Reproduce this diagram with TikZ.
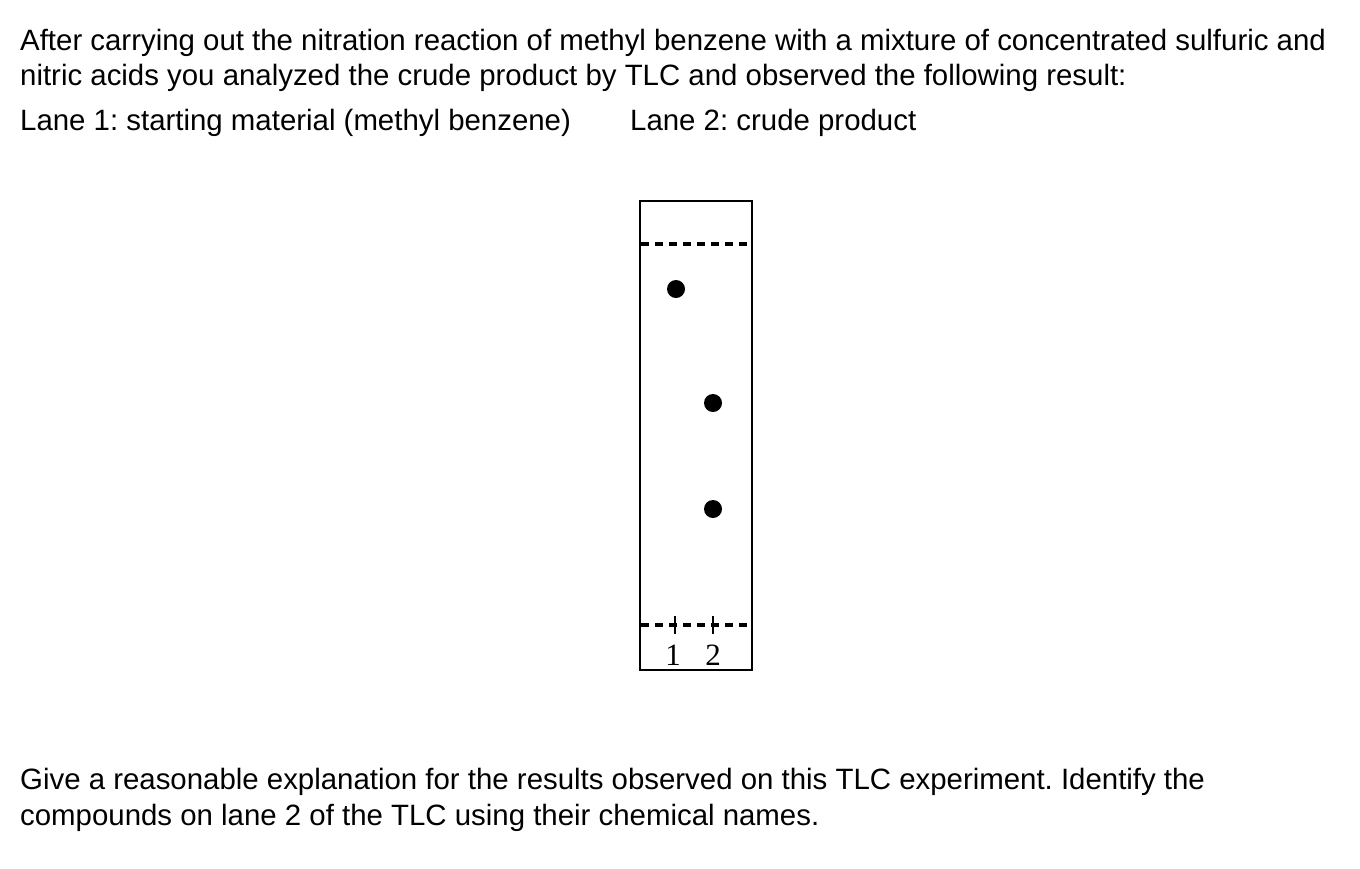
\documentclass[tikz,border=0pt]{standalone}
\usepackage{fontspec}
\setmainfont{Liberation Sans}
\newfontfamily\serifnum{Liberation Serif}
\begin{document}
\frenchspacing
\begin{tikzpicture}[x=1pt,y=-1pt,
  txt/.style={anchor=base west,inner sep=0pt,font=\fontsize{29.4}{34}\selectfont},
  spot/.style={fill=black,draw=none},
  front/.style={line width=3.5pt,dash pattern=on 8pt off 6pt}]
\useasboundingbox (0,0) rectangle (1360,868);
\node[txt] (l1) at (20,50) {After carrying out the nitration reaction of methyl benzene with a mixture of concentrated sulfuric and};
\node[txt] (l2) at (20,85) {nitric acids you analyzed the crude product by TLC and observed the following result:};
\node[txt] (l3) at (20,130) {Lane 1: starting material (methyl benzene)};
\node[txt] (l4) at (630,130) {Lane 2: crude product};
\node[txt] (l5) at (20,789) {Give a reasonable explanation for the results observed on this TLC experiment. Identify the};
\node[txt] (l6) at (20,825) {compounds on lane 2 of the TLC using their chemical names.};
\draw[line width=2pt] (640,201) rectangle (752,670);
\draw[front] (641,244) -- (751,244);
\draw[front] (641,625) -- (751,625);
\draw[line width=2.2pt] (675,616) -- (675,634);
\draw[line width=1.8pt] (713,616) -- (713,634);
\fill[spot] (676,289) circle (9);
\fill[spot] (713,403) circle (9);
\fill[spot] (713,509) circle (9);
\node[font=\serifnum\fontsize{31}{33}\selectfont,inner sep=0pt] (n1) at (673,655) {1};
\node[font=\serifnum\fontsize{31}{33}\selectfont,inner sep=0pt] (n2) at (713,655) {2};
\end{tikzpicture}
\end{document}
